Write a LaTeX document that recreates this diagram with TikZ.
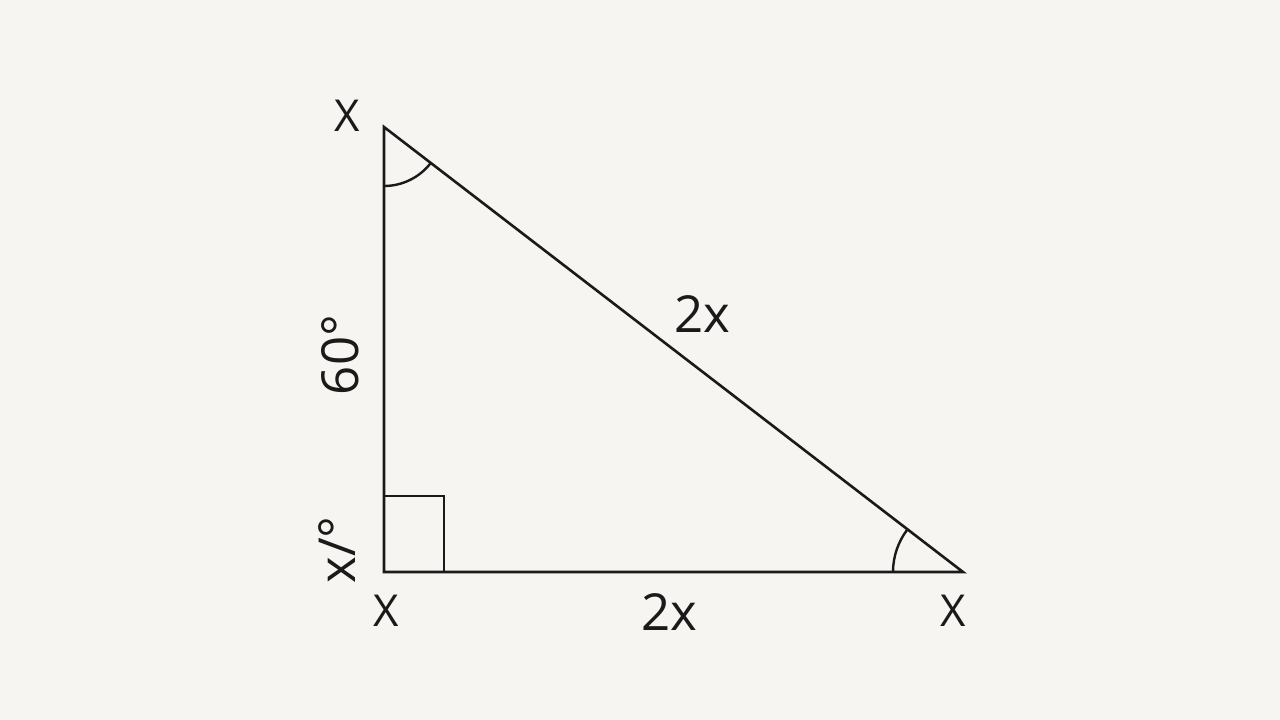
\documentclass[tikz,border=0pt]{standalone}
\usepackage{fontspec}
\setmainfont{Open Sans}
\definecolor{bg}{HTML}{F7F5F2}
\definecolor{ink}{HTML}{1A1A1A}
\begin{document}
\begin{tikzpicture}[x=1pt,y=-1pt,
  edge/.style={draw=ink,line width=2.6pt,line join=miter},
  thin/.style={draw=ink,line width=2.4pt},
  vlab/.style={text=ink,font=\fontsize{44}{44}\selectfont,inner sep=0pt},
  slab/.style={text=ink,font=\fontsize{51}{51}\selectfont,inner sep=0pt}]
\fill[bg] (0,0) rectangle (1280,720);
\useasboundingbox (0,0) rectangle (1280,720);
\coordinate (A) at (384,127);
\coordinate (B) at (384,572);
\coordinate (C) at (963,572);
\draw[edge] (A) -- (B) -- (C) -- cycle;
% right angle
\draw[thin] (384,496) -- (444,496) -- (444,572);
% angle arcs
\draw[thin] (384,186) arc[start angle=90,end angle=37.5,radius=59];
\draw[thin] (893,572) arc[start angle=180,end angle=217.5,radius=70];
% labels
\node[vlab] (la) at (347,116) {X};
\node[vlab] (lb) at (386,611) {X};
\node[vlab] (lc) at (953,611) {X};
\node[slab] (hyp) at (702,314) {2x};
\node[slab] (base) at (669,612) {2x};
\node[slab,rotate=90] (sixty) at (340,355) {60°};
\node[slab,rotate=90] (xs) at (337,550) {x/°};
\end{tikzpicture}
\end{document}
